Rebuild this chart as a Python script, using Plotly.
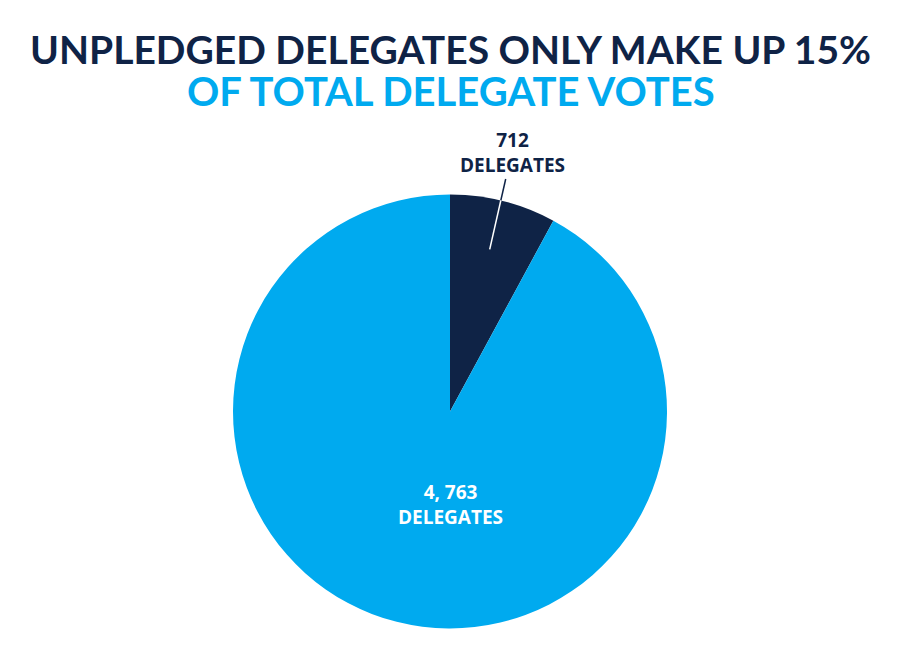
import plotly.graph_objects as go

# Data
categories = ["Unpledged delegates", "Pledged delegates"]
delegates = [712, 4763]
slice_share = [7.9, 92.1]  # slice sizes as drawn in the picture (percent)
label_lines = ["DELEGATES", "DELEGATES"]
colors = ["#0f2346", "#00aaef"]

W, H = 900, 670
cx, cy, r = 450, 411.5, 217

def px(x):
    return x / W

def py(y):
    return 1 - y / H

fig = go.Figure()
fig.add_trace(go.Pie(
    labels=categories,
    values=slice_share,
    marker=dict(colors=colors, line=dict(width=0)),
    sort=False,
    direction="clockwise",
    rotation=0,
    textinfo="none",
    hoverinfo="label+value",
    showlegend=False,
    domain=dict(x=[px(cx - r), px(cx + r)], y=[py(cy + r), py(cy - r)]),
))

def fmt(v):
    s = f"{v:,}"
    return s.replace(",", ", ")

font_fam = "Lato, 'Open Sans', sans-serif"
label_fam = "'Open Sans', Lato, sans-serif"
annotations = [
    dict(x=px(450), y=py(49), xref="paper", yref="paper",
         text="<b>UNPLEDGED DELEGATES ONLY MAKE UP 15%</b>", showarrow=False, height=36,
         font=dict(family=font_fam, size=39, color="#0f2346"), xanchor="center", yanchor="middle"),
    dict(x=px(451), y=py(91), xref="paper", yref="paper",
         text="<b>OF TOTAL DELEGATE VOTES</b>", showarrow=False, height=36,
         font=dict(family=font_fam, size=40, color="#00aaef"), xanchor="center", yanchor="middle"),
    dict(x=px(512), y=py(152), xref="paper", yref="paper",
         text=f"<b>{fmt(delegates[0])}<br>{label_lines[0]}</b>", showarrow=False,
         font=dict(family=label_fam, size=19, color="#0f2346"), xanchor="center", yanchor="middle",
         align="center"),
    dict(x=px(450), y=py(505), xref="paper", yref="paper",
         text=f"<b>{fmt(delegates[1])}<br>{label_lines[1]}</b>", showarrow=False,
         font=dict(family=label_fam, size=19, color="#ffffff"), xanchor="center", yanchor="middle",
         align="center"),
]

# leader line: dark above the pie edge, white inside the slice
x0, y0, x1, y1 = 505.7, 179, 489.7, 249.3
t_edge = (200.5 - y0) / (y1 - y0)
xe = x0 + (x1 - x0) * t_edge
shapes = [
    dict(type="line", xref="paper", yref="paper", x0=px(x0), y0=py(y0), x1=px(xe), y1=py(200.5),
         line=dict(color="#0f2346", width=1.5)),
    dict(type="line", xref="paper", yref="paper", x0=px(xe), y0=py(200.5), x1=px(x1), y1=py(y1),
         line=dict(color="#ffffff", width=1.5)),
]

fig.update_layout(
    width=W, height=H,
    margin=dict(l=0, r=0, t=0, b=0),
    paper_bgcolor="#ffffff",
    plot_bgcolor="#ffffff",
    annotations=annotations,
    shapes=shapes,
)

fig.write_html("out.html")
